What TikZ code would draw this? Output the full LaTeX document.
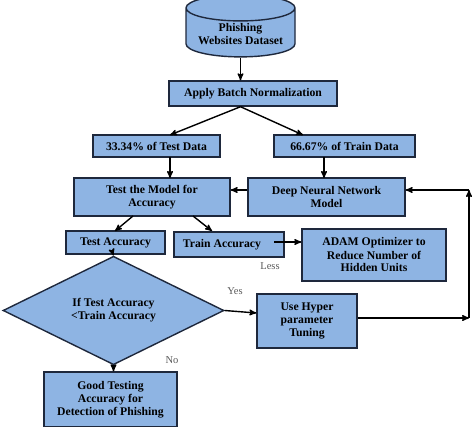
\documentclass[tikz,border=0pt]{standalone}
\usepackage{fontspec}
\setmainfont{Liberation Serif}
\usetikzlibrary{arrows,shapes}
\tikzset{>=stealth'}
\definecolor{boxfill}{RGB}{142,180,227}
\definecolor{boxline}{RGB}{30,40,60}

\begin{document}
\begin{tikzpicture}[x=1pt,y=-1pt]
\tikzset{
  box/.style={
    draw=boxline,
    fill=boxfill,
    line width=1.4pt,
    align=center,
    inner sep=1pt,
    font=\bfseries\fontsize{11.7}{13}\selectfont
  },
  arr/.style={->,line width=1.4pt,black}
};

\tikzstyle{lab}=[font=\fontsize{10.5}{12}\selectfont,text=black!65,anchor=center]

 \useasboundingbox (0,0) rectangle (474,427);

 \node[box,shape=cylinder,shape border rotate=90,aspect=0.3,
       minimum width=109pt,minimum height=62pt] (ds) at (240.5,34)
       {Phishing\\Websites Dataset};
 \node[box,minimum width=168pt,minimum height=25pt] (bn) at (253,93.5)
       {Apply Batch Normalization};
 \node[box,minimum width=127pt,minimum height=22pt] (testd) at (156.5,146)
       {33.34\% of Test Data};
 \node[box,minimum width=141pt,minimum height=22pt] (traind) at (344.5,146)
       {66.67\% of Train Data};
 \node[box,minimum width=156pt,minimum height=38pt] (model) at (152,197)
       {Test the Model for\\Accuracy};
 \node[box,minimum width=157pt,minimum height=38pt] (dnn) at (326.5,197)
       {Deep Neural Network\\Model};
 \node[box,minimum width=99pt,minimum height=23pt] (testacc) at (115.5,242.5)
       {Test Accuracy};
 \node[box,minimum width=110pt,minimum height=25pt] (trainacc) at (229,244.5)
       {Train Accuracy\hspace*{14pt}};
 \node[box,minimum width=144pt,minimum height=52pt] (adam) at (374,255)
       {ADAM Optimizer to\\Reduce Number of\\Hidden Units};
 \node[box,shape=diamond,minimum width=221pt,minimum height=89pt,inner sep=0pt] (cmp) at (113.5,310.5)
       {If Test Accuracy\\{<}Train Accuracy};
 \node[box,minimum width=100pt,minimum height=54pt] (hyp) at (307,321)
       {Use Hyper\\parameter\\Tuning};
 \node[box,minimum width=133pt,minimum height=55pt] (good) at (110.5,399.5)
       {Good Testing\\Accuracy for\\Detection of Phishing};

 % labels
 \node[lab] (less) at (270,266) {Less};
 \node[lab] (yes) at (235,291) {Yes};
 \node[lab] (no) at (172,360) {No};

 % loop back corners
 \coordinate (c1) at (469,318);
 \coordinate (c2) at (469,190);

 \draw[arr] (ds.south) -- (ds.south |- bn.north);
 \draw[arr] (ds.south |- bn.south) -- (170,135);
 \draw[arr] (ds.south |- bn.south) -- (303,135);
 \draw[arr] (170,157) -- (170,178);
 \draw[arr] (324,157) -- (324,178);
 \draw[arr] (dnn.west |- c2) -- (model.east |- c2);
 \draw[arr] (133,216) -- (115,231);
 \draw[arr] (193,216) -- (212,231);
 \draw[arr] (274,242) -- (adam.west |- 0,242);
 \draw[arr] (113,254) -- (cmp.north);
 \draw[arr] (cmp.east) -- (hyp.west |- 0,313);
 \draw[arr] (cmp.south) -- (good.north -| cmp.south);
 \draw[arr] (hyp.east |- c1) -- (c1);
 \draw[arr] (c1) -- (c2);
 \draw[arr] (c2) -- (dnn.east |- c2);
\end{tikzpicture}
\end{document}
